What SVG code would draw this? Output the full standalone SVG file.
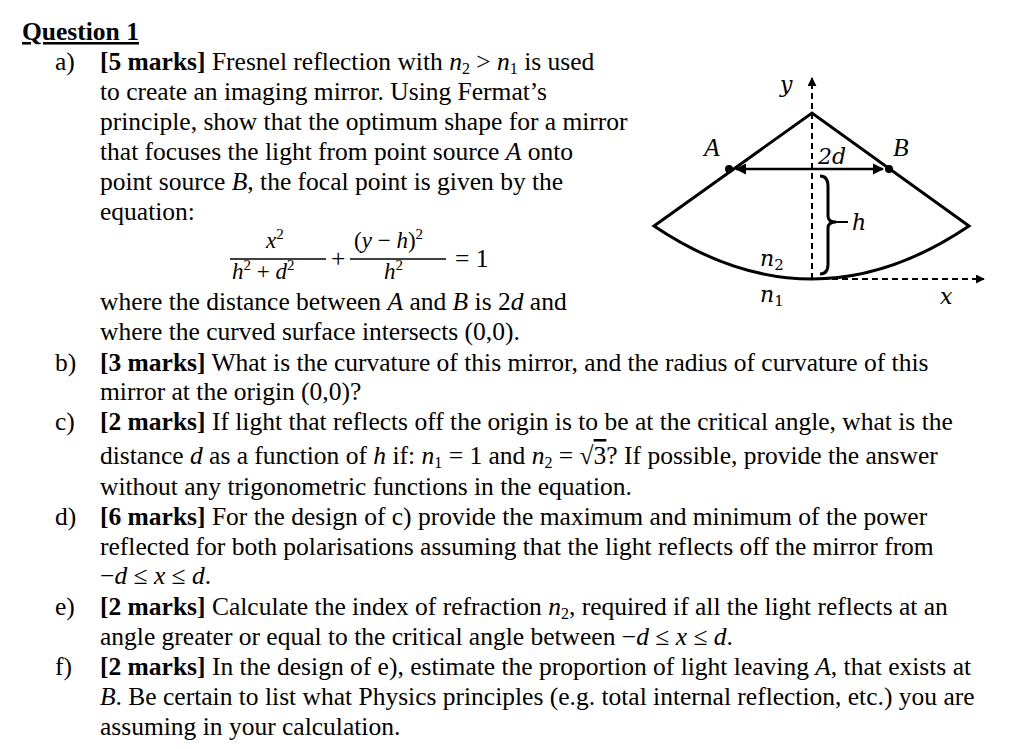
<svg xmlns="http://www.w3.org/2000/svg" width="1024" height="749" viewBox="0 0 1024 749">
<defs>
<style>
text{font-family:"Liberation Serif","Times New Roman",serif;font-size:25.5px;fill:#000}
.b{font-weight:bold}
.i{font-style:italic}
.f{font-size:23px}
.m{font-family:"DejaVu Serif","Liberation Serif",serif;font-style:italic;font-size:22px}
.s{stroke:#000;stroke-width:3;fill:none}
.d{stroke:#000;stroke-width:2;stroke-dasharray:6,4;fill:none}
</style>
<marker id="ah" viewBox="0 0 10 10" refX="9" refY="5" markerWidth="4.5" markerHeight="4.5" orient="auto-start-reverse"><path d="M0,0L10,5L0,10z" fill="#000"/></marker>
</defs>
<g id="text">
<text x="22" y="40" class="b" text-decoration="underline">Question 1</text>
<text x="55" y="70">a)</text>
<text x="100" y="70"><tspan class="b">[5 marks]</tspan> Fresnel reflection with <tspan class="i">n</tspan><tspan font-size="16" dy="4">2</tspan><tspan dy="-4"> &gt; </tspan><tspan class="i">n</tspan><tspan font-size="16" dy="4">1</tspan><tspan dy="-4"> is used</tspan></text>
<text x="100" y="100">to create an imaging mirror. Using Fermat’s</text>
<text x="100" y="130">principle, show that the optimum shape for a mirror</text>
<text x="100" y="160">that focuses the light from point source <tspan class="i">A</tspan> onto</text>
<text x="100" y="190">point source <tspan class="i">B</tspan>, the focal point is given by the</text>
<text x="100" y="220">equation:</text>
<text x="266" y="248" class="i f">x<tspan font-size="15" dy="-9" font-style="normal">2</tspan></text>
<line x1="230" y1="259" x2="326" y2="259" stroke="#000" stroke-width="1.5"/>
<text x="232" y="279" class="i f">h<tspan font-size="15" dy="-9" font-style="normal">2</tspan><tspan dy="9" font-style="normal"> + </tspan>d<tspan font-size="15" dy="-9" font-style="normal">2</tspan></text>
<text x="331" y="267">+</text>
<text x="354" y="248" class="f">(<tspan class="i">y</tspan> − <tspan class="i">h</tspan>)<tspan font-size="15" dy="-9">2</tspan></text>
<line x1="350" y1="259" x2="446" y2="259" stroke="#000" stroke-width="1.5"/>
<text x="384" y="279" class="i f">h<tspan font-size="15" dy="-9" font-style="normal">2</tspan></text>
<text x="455" y="267">= 1</text>
<text x="100" y="310">where the distance between <tspan class="i">A</tspan> and <tspan class="i">B</tspan> is 2<tspan class="i">d</tspan> and</text>
<text x="100" y="340">where the curved surface intersects (0,0).</text>
<text x="55" y="371">b)</text>
<text x="100" y="371"><tspan class="b">[3 marks]</tspan> What is the curvature of this mirror, and the radius of curvature of this</text>
<text x="100" y="400">mirror at the origin (0,0)?</text>
<text x="55" y="430">c)</text>
<text x="100" y="430"><tspan class="b">[2 marks]</tspan> If light that reflects off the origin is to be at the critical angle, what is the</text>
<text x="100" y="464">distance <tspan class="i">d</tspan> as a function of <tspan class="i">h</tspan> if: <tspan class="i">n</tspan><tspan font-size="16" dy="4">1</tspan><tspan dy="-4"> = 1 and </tspan><tspan class="i">n</tspan><tspan font-size="16" dy="4">2</tspan><tspan dy="-4"> = √</tspan><tspan text-decoration="overline">3</tspan>? If possible, provide the answer</text>
<text x="100" y="495">without any trigonometric functions in the equation.</text>
<text x="55" y="525">d)</text>
<text x="100" y="525"><tspan class="b">[6 marks]</tspan> For the design of c) provide the maximum and minimum of the power</text>
<text x="100" y="555">reflected for both polarisations assuming that the light reflects off the mirror from</text>
<text x="100" y="584">−<tspan class="i">d</tspan> ≤ <tspan class="i">x</tspan> ≤ <tspan class="i">d</tspan>.</text>
<text x="55" y="615">e)</text>
<text x="100" y="615"><tspan class="b">[2 marks]</tspan> Calculate the index of refraction <tspan class="i">n</tspan><tspan font-size="16" dy="4">2</tspan><tspan dy="-4">, required if all the light reflects at an</tspan></text>
<text x="100" y="645">angle greater or equal to the critical angle between −<tspan class="i">d</tspan> ≤ <tspan class="i">x</tspan> ≤ <tspan class="i">d</tspan>.</text>
<text x="55" y="675">f)</text>
<text x="100" y="675"><tspan class="b">[2 marks]</tspan> In the design of e), estimate the proportion of light leaving <tspan class="i">A</tspan>, that exists at</text>
<text x="100" y="705"><tspan class="i">B</tspan>. Be certain to list what Physics principles (e.g. total internal reflection, etc.) you are</text>
<text x="100" y="735">assuming in your calculation.</text>
</g>
<g id="connectors">
<line class="d" x1="812" y1="279" x2="812" y2="78" marker-end="url(#ah)"/>
<line class="d" x1="812" y1="279" x2="984" y2="279" marker-end="url(#ah)"/>
<line x1="736" y1="169" x2="883" y2="169" stroke="#000" stroke-width="2.5" marker-end="url(#ah)" marker-start="url(#ah)"/>
<path d="M820,176 Q828,176 828,186 L828,216 Q828,222 836,222 Q828,222 828,228 L828,264 Q828,274 820,274" class="s" stroke-width="2"/>
<line x1="836" y1="222" x2="848" y2="222" stroke="#000" stroke-width="2"/>
</g>
<g id="mirror">
<path class="s" d="M654,226 L812,113 L969,226 Q812,332 654,226 Z" stroke-linejoin="miter"/>
<circle cx="729" cy="169" r="4"/>
<circle cx="889" cy="169" r="4"/>
</g>
<g id="labels">
<text x="780" y="92" class="m">y</text>
<text x="704" y="156" class="i" font-size="26">A</text>
<text x="818" y="164" class="m" font-style="normal">2<tspan font-style="italic">d</tspan></text>
<text x="893" y="156" class="i" font-size="26">B</text>
<text x="852" y="230" class="m">h</text>
<text x="760" y="266" class="m">n<tspan font-size="15" dy="4" font-style="normal">2</tspan></text>
<text x="760" y="302" class="m">n<tspan font-size="15" dy="4" font-style="normal">1</tspan></text>
<text x="940" y="304" class="m">x</text>
</g>
</svg>
